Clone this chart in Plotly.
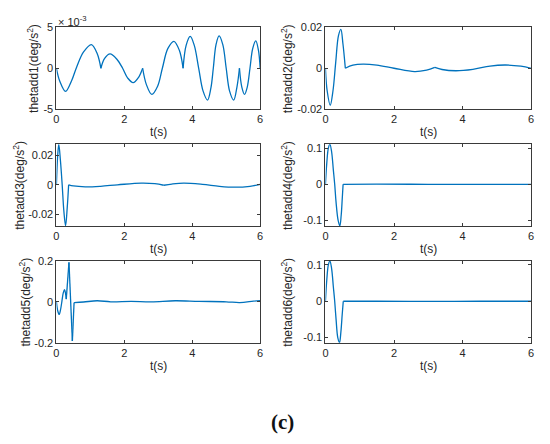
import plotly.graph_objects as go
from plotly.subplots import make_subplots

# ---------------- data ----------------
# thetadd1 values are in units of 1e-3
T1 = [0, 0.1, 0.27, 0.45, 0.6, 0.8, 1.03, 1.2, 1.31,
      1.42, 1.58, 1.78, 1.95, 2.1, 2.26, 2.42, 2.54,
      2.65, 2.81, 2.98, 3.12, 3.28, 3.46, 3.62, 3.73,
      3.82, 3.94, 4.06, 4.19, 4.32, 4.45, 4.55, 4.62, 4.70, 4.79, 4.9, 5.0, 5.1, 5.22, 5.32, 5.39,
      5.46, 5.54, 5.62, 5.7, 5.78, 5.87, 5.95, 6.0]
V1 = [0, -1.6, -2.83, -1.5, 0.2, 2.0, 2.9, 1.8, 0.0,
      1.2, 1.75, 1.1, 0.0, -1.2, -1.76, -1.1, 0.0,
      -2.0, -3.2, -2.2, 0.0, 2.4, 3.3, 2.2, 0.0,
      2.8, 3.9, 2.8, 0.0, -2.8, -3.9, -2.4, 0.0, 2.9, 3.97, 2.9, 0.0, -2.8, -3.9, -2.2, 0.0,
      -2.3, -3.2, -2.3, 0.0, 2.4, 3.35, 2.2, 0.0]
C1 = [1.31, 2.54, 3.73, 5.39]

T2 = [0, 0.05, 0.14, 0.22, 0.3, 0.38, 0.45, 0.51, 0.58, 0.8, 1.1, 1.5, 2.0, 2.6, 2.95,
      3.19, 3.4, 3.8, 4.3, 4.8, 5.25, 5.7, 6.0]
V2 = [0, -0.011, -0.0181, -0.011, 0.003, 0.016, 0.019, 0.012, 0.0, 0.0015, 0.002, 0.0015,
      0.0, -0.0016, -0.0009, 0.0004, -0.0006, -0.0012, -0.0005, 0.0011, 0.0016, 0.001, 0.0]
C2 = [0.58, 3.19]

T3 = [0, 0.035, 0.07, 0.12, 0.17, 0.22, 0.27, 0.32, 0.36, 0.5, 0.85, 1.3, 1.8, 2.5, 2.9,
      3.16, 3.4, 3.75, 4.3, 4.8, 5.25, 5.7, 6.0]
V3 = [0, 0.019, 0.0275, 0.016, 0.0, -0.018, -0.0278, -0.015, 0.0, -0.0008, -0.0014, -0.001,
      0.0, 0.0012, 0.0008, -0.0003, 0.0005, 0.0011, 0.0003, -0.001, -0.0016, -0.001, 0.0003]
C3 = [0.36, 3.16]

T4 = [0, 0.04, 0.085, 0.13, 0.18, 0.23, 0.27, 0.31, 0.37, 0.42, 0.46, 0.49, 0.515,
      1.5, 3.0, 4.5, 6.0]
V4 = [0, 0.06, 0.1, 0.111, 0.09, 0.04, 0.0, -0.05, -0.1, -0.115, -0.085, -0.04, 0.0,
      0.0003, 0.0, -0.0002, 0.0]
C4 = [0.515]

T5 = [0, 0.04, 0.08, 0.12, 0.16, 0.2, 0.24, 0.27, 0.29, 0.37, 0.47, 0.52, 0.8, 1.2, 1.6,
      2.2, 2.8, 3.5, 4.2, 5.0, 5.4, 5.8, 6.0]
V5 = [0, -0.045, -0.062, -0.04, 0.0, 0.042, 0.06, 0.04, 0.013, 0.193, -0.192, -0.004,
      -0.001, 0.005, 0.0, 0.002, 0.0, 0.005, 0.002, 0.0, -0.004, 0.003, 0.006]
C5 = [0.29, 0.37, 0.47, 0.52]

T6 = [0, 0.04, 0.085, 0.13, 0.18, 0.23, 0.27, 0.31, 0.36, 0.41, 0.45, 0.49, 0.52,
      1.5, 3.0, 4.5, 6.0]
V6 = [0, 0.06, 0.1, 0.111, 0.09, 0.04, 0.0, -0.05, -0.1, -0.114, -0.085, -0.035, 0.0,
      0.0, -0.0005, 0.0, 0.0]
C6 = [0.52]

Y_TITLES = ["thetadd1(deg/s<sup>2</sup>)", "thetadd2(deg/s<sup>2</sup>)",
            "thetadd3(deg/s<sup>2</sup>)", "thetadd4(deg/s<sup>2</sup>)",
            "thetadd5(deg/s<sup>2</sup>)", "thetadd6(deg/s<sup>2</sup>)"]
Y_RANGES = [[-5, 5], [-0.02, 0.02], [-0.0279, 0.0276], [-0.115, 0.111], [-0.2, 0.2], [-0.114, 0.111]]
Y_TICKS = [[-5, 0, 5], [-0.02, 0, 0.02], [-0.02, 0, 0.02], [-0.1, 0, 0.1], [-0.2, 0, 0.2], [-0.1, 0, 0.1]]
Y_TICKTEXT = [["-5", "0", "5"], ["-0.02", "0", "0.02"], ["-0.02", "0", "0.02"],
              ["-0.1", "0", "0.1"], ["-0.2", "0", "0.2"], ["-0.1", "0", "0.1"]]
X_TICKS = [0, 2, 4, 6]
X_TITLE = "t(s)"

SERIES = [(T1, V1, C1), (T2, V2, C2), (T3, V3, C3), (T4, V4, C4), (T5, V5, C5), (T6, V6, C6)]

# ---------------- layout ----------------
W, H = 550, 444
COLX = [(54, 260), (326, 534)]
ROWY = [(22, 106), (142, 226), (262, 346)]
TITLE_X = [31, 287, 16, 287, 22, 287]
LINE = "#0072BD"
FRAME = "#3a3a3a"
FONT = "Liberation Sans, Arial, sans-serif"

fig = make_subplots(rows=3, cols=2)

for k, (t, v, cusps) in enumerate(SERIES):
    r, c = k // 2 + 1, k % 2 + 1
    idx = [0] + [t.index(cc) for cc in cusps] + [len(t) - 1]
    for a, b in zip(idx[:-1], idx[1:]):
        fig.add_trace(go.Scatter(x=t[a:b + 1], y=v[a:b + 1], mode="lines",
                                 line=dict(color=LINE, width=1.3, shape="spline", smoothing=1.0),
                                 showlegend=False, hoverinfo="skip"), row=r, col=c)

annotations = []
for k in range(6):
    r, c = k // 2, k % 2
    x0, x1 = COLX[c]
    y0, y1 = ROWY[r]
    n = "" if k == 0 else str(k + 1)
    axstyle = dict(showline=True, linecolor=FRAME, linewidth=1, mirror="allticks",
                   ticks="inside", ticklen=3, tickcolor=FRAME, showgrid=False, zeroline=False,
                   tickfont=dict(family=FONT, size=11, color="#262626"))
    fig.layout["xaxis" + n].update(domain=[x0 / W, x1 / W], range=[0, 6],
                                   tickvals=X_TICKS, ticktext=[str(x) for x in X_TICKS], **axstyle)
    fig.layout["yaxis" + n].update(domain=[1 - y1 / H, 1 - y0 / H], range=Y_RANGES[k],
                                   tickvals=Y_TICKS[k], ticktext=Y_TICKTEXT[k], **axstyle)
    # x title
    annotations.append(dict(text=X_TITLE, xref="paper", yref="paper",
                            x=(x0 + x1) / 2 / W, y=1 - (y1 + 24) / H,
                            showarrow=False, xanchor="center", yanchor="middle",
                            font=dict(family=FONT, size=12, color="#262626")))
    # y title
    annotations.append(dict(text=Y_TITLES[k], xref="paper", yref="paper",
                            x=TITLE_X[k] / W, y=1 - (y0 + y1) / 2 / H, textangle=-90,
                            showarrow=False, xanchor="center", yanchor="middle",
                            font=dict(family=FONT, size=12, color="#262626")))

annotations.append(dict(text="\u00d7 10<sup>-3</sup>", xref="paper", yref="paper",
                        x=54 / W, y=1 - 15 / H, showarrow=False, xanchor="left", yanchor="middle",
                        font=dict(family=FONT, size=11, color="#262626")))
annotations.append(dict(text="<b>(c)</b>", xref="paper", yref="paper",
                        x=283 / W, y=1 - 428 / H, showarrow=False, xanchor="center", yanchor="middle",
                        font=dict(family="Liberation Serif, DejaVu Serif, serif", size=21, color="#111111")))

fig.update_layout(width=W, height=H, margin=dict(l=0, r=0, t=0, b=0),
                  paper_bgcolor="white", plot_bgcolor="white",
                  annotations=annotations, showlegend=False)

fig.write_html("out.html")
